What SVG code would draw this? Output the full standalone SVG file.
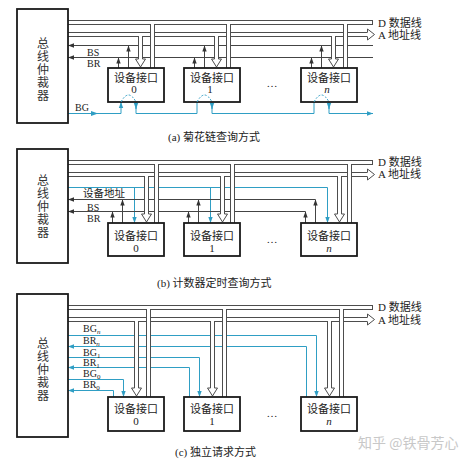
<svg xmlns="http://www.w3.org/2000/svg" width="474" height="464" viewBox="0 0 474 464">
<style>
.bd{stroke:#4d4d4d;stroke-width:5;fill:none}
.bw{stroke:#fff;stroke-width:3;fill:none}
.ha{fill:#fff;stroke:#4d4d4d;stroke-width:1}
.ln{stroke:#444;stroke-width:1;fill:none}
.cy{stroke:#2f9ec4;stroke-width:1;fill:none}
.arc{stroke:#2f9ec4;stroke-width:1;fill:none;stroke-dasharray:2 1.6}
.box{fill:#fff;stroke:#1a1a1a;stroke-width:1.8}
.t{font-family:"Liberation Serif","Noto Sans CJK SC",serif;font-size:11px;fill:#222}
.s{font-size:10px}
.arb{font-family:"Noto Sans CJK SC",sans-serif;font-size:12px;fill:#333;writing-mode:vertical-rl;letter-spacing:1px}
.c{text-anchor:middle}
.wm{font-family:"Noto Sans CJK SC",sans-serif;font-size:14px;fill:#c8c8c8}
</style>
<defs>
<marker id="mk" viewBox="0 0 6 6" refX="6" refY="3" markerWidth="6" markerHeight="6" markerUnits="userSpaceOnUse" orient="auto"><path d="M0,0.8 L6,3 L0,5.2z" fill="#333"/></marker>
<marker id="mc" viewBox="0 0 6 6" refX="6" refY="3" markerWidth="6" markerHeight="6" markerUnits="userSpaceOnUse" orient="auto"><path d="M0,0.8 L6,3 L0,5.2z" fill="#2f9ec4"/></marker>
</defs>

<g id="connectors">
  <path class="bd" d="M68,22.5 H373 M68,34.5 H367.5 M68,162.5 H373 M68,174.5 H367.5 M68,307.5 H373 M68,319.5 H367.5"/>
  <path class="bw" d="M68,22.5 H372 M68,34.5 H368 M68,162.5 H372 M68,174.5 H368 M68,307.5 H372 M68,319.5 H368"/>
  <path class="ha" d="M367.5,32.5 V29 L374.5,34.5 L367.5,40 V36.5"/>
  <path class="ha" d="M367.5,172.5 V169 L374.5,174.5 L367.5,180 V176.5"/>
  <path class="ha" d="M367.5,317.5 V314 L374.5,319.5 L367.5,325 V321.5"/>

  <path class="ln" d="M373,45.5 H68" marker-end="url(#mk)"/>
  <path class="ln" d="M373,57.5 H68" marker-end="url(#mk)"/>
  <path class="ln" d="M118.5,68 V57.5" marker-end="url(#mk)"/>
  <path class="ln" d="M128.5,68 V45.5" marker-end="url(#mk)"/>
  <path class="ln" d="M194.5,68 V57.5" marker-end="url(#mk)"/>
  <path class="ln" d="M204.5,68 V45.5" marker-end="url(#mk)"/>
  <path class="ln" d="M311.5,68 V57.5" marker-end="url(#mk)"/>
  <path class="ln" d="M321.5,68 V45.5" marker-end="url(#mk)"/>
  <path class="cy" d="M68,113.5 H121 V102" marker-end="url(#mc)"/>
  <polygon points="91,111 98,113.5 91,116" fill="#2f9ec4"/>
  <path class="cy" d="M136,102 V109" marker-end="url(#mc)"/>
  <path class="cy" d="M136,107 V113.5 H197 V102"/>
  <path class="cy" d="M212,102 V109" marker-end="url(#mc)"/>
  <path class="cy" d="M212,107 V113.5 H314 V102"/>
  <path class="cy" d="M329,102 V109" marker-end="url(#mc)"/>
  <path class="cy" d="M329,107 V113.5 H373" marker-end="url(#mc)"/>

  <path class="cy" d="M68,187.5 H327.5 V223" marker-end="url(#mc)"/>
  <path class="cy" d="M134.5,187.5 V223" marker-end="url(#mc)"/>
  <path class="cy" d="M210.5,187.5 V223" marker-end="url(#mc)"/>
  <path class="ln" d="M315.5,199.5 H68" marker-end="url(#mk)"/>
  <path class="ln" d="M305.5,211.5 H68" marker-end="url(#mk)"/>
  <path class="ln" d="M112.5,223 V211.5" marker-end="url(#mk)"/>
  <path class="ln" d="M122.5,223 V199.5" marker-end="url(#mk)"/>
  <path class="ln" d="M188.5,223 V211.5" marker-end="url(#mk)"/>
  <path class="ln" d="M198.5,223 V199.5" marker-end="url(#mk)"/>
  <path class="ln" d="M305.5,223 V211.5" marker-end="url(#mk)"/>
  <path class="ln" d="M315.5,223 V199.5" marker-end="url(#mk)"/>

  <path class="cy" d="M68,335.5 H316.5 V397" marker-end="url(#mc)"/>
  <path class="cy" d="M306.5,397 V346.5 H68" marker-end="url(#mc)"/>
  <path class="cy" d="M68,357.5 H199.5 V397" marker-end="url(#mc)"/>
  <path class="cy" d="M189.5,397 V367.5 H68" marker-end="url(#mc)"/>
  <path class="cy" d="M68,379.5 H123.5 V397" marker-end="url(#mc)"/>
  <path class="cy" d="M113.5,397 V390.5 H68" marker-end="url(#mc)"/>

  <path class="bd" d="M152.5,24 V68 M228.5,24 V68 M345.5,24 V68 M156.5,164 V223 M232.5,164 V223 M349.5,164 V223 M148.5,309 V397 M224.5,309 V397 M341.5,309 V397"/>
  <path class="bw" d="M152.5,22.5 V68 M228.5,22.5 V68 M345.5,22.5 V68 M156.5,162.5 V223 M232.5,162.5 V223 M349.5,162.5 V223 M148.5,307.5 V397 M224.5,307.5 V397 M341.5,307.5 V397"/>

  <path class="ha" d="M138.5,36 V59 H135.5 L140.5,67 L145.5,59 H142.5 V36"/>
  <path class="ha" d="M214.5,36 V59 H211.5 L216.5,67 L221.5,59 H218.5 V36"/>
  <path class="ha" d="M331.5,36 V59 H328.5 L333.5,67 L338.5,59 H335.5 V36"/>
  <path class="ha" d="M144.5,176 V214 H141.5 L146.5,222 L151.5,214 H148.5 V176"/>
  <path class="ha" d="M220.5,176 V214 H217.5 L222.5,222 L227.5,214 H224.5 V176"/>
  <path class="ha" d="M337.5,176 V214 H334.5 L339.5,222 L344.5,214 H341.5 V176"/>
  <path class="ha" d="M134.5,321 V388 H131.5 L136.5,396 L141.5,388 H138.5 V321"/>
  <path class="ha" d="M210.5,321 V388 H207.5 L212.5,396 L217.5,388 H214.5 V321"/>
  <path class="ha" d="M327.5,321 V388 H324.5 L329.5,396 L334.5,388 H331.5 V321"/>
</g>

<g id="connector-labels" class="t">
  <text x="378" y="27">D 数据线</text>
  <text x="378" y="39">A 地址线</text>
  <text x="87" y="55.5" class="s">BS</text>
  <text x="87" y="67" class="s">BR</text>
  <text x="75" y="110.5" class="s">BG</text>

  <text x="378" y="166">D 数据线</text>
  <text x="378" y="178">A 地址线</text>
  <text x="83" y="197" style="font-size:10.5px">设备地址</text>
  <text x="87" y="210.5" class="s">BS</text>
  <text x="87" y="222" class="s">BR</text>

  <text x="378" y="311">D 数据线</text>
  <text x="378" y="323.5">A 地址线</text>
  <text x="83" y="332" class="s">BG<tspan font-size="7" dy="2" font-style="italic">n</tspan></text>
  <text x="83" y="344" class="s">BR<tspan font-size="7" dy="2" font-style="italic">n</tspan></text>
  <text x="83" y="355.5" class="s">BG<tspan font-size="7" dy="2">1</tspan></text>
  <text x="83" y="365.5" class="s">BR<tspan font-size="7" dy="2">1</tspan></text>
  <text x="83" y="377" class="s">BG<tspan font-size="7" dy="2">0</tspan></text>
  <text x="83" y="388" class="s">BR<tspan font-size="7" dy="2">0</tspan></text>
</g>

<g id="arbiter-a">
  <rect class="box" x="17" y="9" width="51" height="114"/>
  <text class="arb" x="43" y="37">总线仲裁器</text>
</g>
<g id="dev-a0">
  <rect class="box" x="108" y="68" width="56" height="34"/>
  <text class="t c" x="136" y="82">设备接口</text>
  <text class="t c" x="134" y="93">0</text>
  <path class="arc" d="M121,102 Q128.5,88 136,102"/>
</g>
<g id="dev-a1">
  <rect class="box" x="184" y="68" width="56" height="34"/>
  <text class="t c" x="212" y="82">设备接口</text>
  <text class="t c" x="210" y="93">1</text>
  <path class="arc" d="M197,102 Q204.5,88 212,102"/>
</g>
<g id="dev-an">
  <rect class="box" x="301" y="68" width="56" height="34"/>
  <text class="t c" x="329" y="82">设备接口</text>
  <text class="t c" x="327" y="93" font-style="italic">n</text>
  <path class="arc" d="M314,102 Q321.5,88 329,102"/>
</g>
<text class="t c" x="272" y="87">…</text>
<text class="t" x="168" y="141">(a) 菊花链查询方式</text>

<g id="arbiter-b">
  <rect class="box" x="17" y="149" width="51" height="114"/>
  <text class="arb" x="43" y="174.5">总线仲裁器</text>
</g>
<g id="dev-b0">
  <rect class="box" x="108" y="223" width="56" height="33"/>
  <text class="t c" x="136" y="240">设备接口</text>
  <text class="t c" x="136" y="252">0</text>
</g>
<g id="dev-b1">
  <rect class="box" x="184" y="223" width="56" height="33"/>
  <text class="t c" x="212" y="240">设备接口</text>
  <text class="t c" x="212" y="252">1</text>
</g>
<g id="dev-bn">
  <rect class="box" x="301" y="223" width="56" height="33"/>
  <text class="t c" x="329" y="240">设备接口</text>
  <text class="t c" x="329" y="252" font-style="italic">n</text>
</g>
<text class="t c" x="272" y="243">…</text>
<text class="t" x="157" y="287">(b) 计数器定时查询方式</text>

<g id="arbiter-c">
  <rect class="box" x="17" y="294" width="51" height="143"/>
  <text class="arb" x="43" y="337">总线仲裁器</text>
</g>
<g id="dev-c0">
  <rect class="box" x="108" y="397" width="56" height="34"/>
  <text class="t c" x="136" y="412.5">设备接口</text>
  <text class="t c" x="136" y="425">0</text>
</g>
<g id="dev-c1">
  <rect class="box" x="184" y="397" width="56" height="34"/>
  <text class="t c" x="212" y="412.5">设备接口</text>
  <text class="t c" x="212" y="425">1</text>
</g>
<g id="dev-cn">
  <rect class="box" x="301" y="397" width="56" height="34"/>
  <text class="t c" x="329" y="412.5">设备接口</text>
  <text class="t c" x="329" y="425" font-style="italic">n</text>
</g>
<text class="t c" x="272" y="417">…</text>
<text class="t" x="175" y="455.5">(c) 独立请求方式</text>

<text class="wm" x="358" y="448">知乎 @铁骨芳心</text>
</svg>
